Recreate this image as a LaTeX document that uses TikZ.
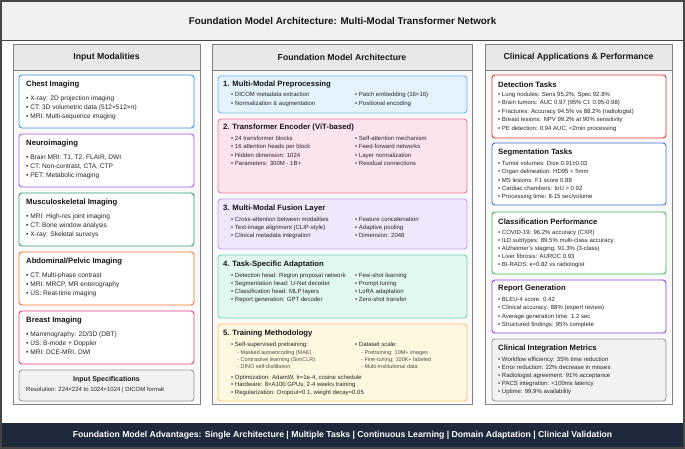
\documentclass[tikz,border=0pt]{standalone}
\usepackage{fontspec}
\setmainfont{Liberation Sans}
\usepackage{xcolor}
\definecolor{framegray}{RGB}{70,70,70}
\definecolor{titlefill}{RGB}{240,240,240}
\definecolor{panelfill}{RGB}{249,249,249}
\definecolor{hdrfill}{RGB}{232,232,232}
\definecolor{footnavy}{RGB}{30,41,59}
\definecolor{chestblue}{RGB}{52,152,219}
\definecolor{neuropurple}{RGB}{160,90,240}
\definecolor{mskgreen}{RGB}{46,160,110}
\definecolor{abdorange}{RGB}{240,120,50}
\definecolor{breastpink}{RGB}{230,60,130}
\definecolor{prefill}{RGB}{227,242,253}
\definecolor{predraw}{RGB}{110,185,240}
\definecolor{encfill}{RGB}{252,228,238}
\definecolor{encdraw}{RGB}{240,120,165}
\definecolor{fusfill}{RGB}{241,231,251}
\definecolor{fusdraw}{RGB}{195,160,235}
\definecolor{adafill}{RGB}{226,247,240}
\definecolor{adadraw}{RGB}{110,215,175}
\definecolor{trnfill}{RGB}{255,247,224}
\definecolor{trndraw}{RGB}{255,195,100}
\definecolor{detred}{RGB}{228,50,50}
\definecolor{segblue}{RGB}{60,110,230}
\definecolor{clsgreen}{RGB}{60,180,90}
\definecolor{reppurple}{RGB}{140,60,240}
\definecolor{cardgray}{RGB}{242,242,244}

\begin{document}
\begin{tikzpicture}[x=1pt,y=-1pt,
    panel/.style={draw=black!50,line width=0.9pt,fill=panelfill},
    hdr/.style={font=\fontsize{8.7}{10}\selectfont\bfseries,text=black!90,inner sep=0},
    card/.style={rounded corners=3pt,line width=0.9pt},
    ttl/.style={anchor=west,inner sep=0,text=black!92,
      font=\fontsize{7.7}{9}\selectfont\bfseries},
    itm/.style={anchor=west,inner sep=0,text=black!85,text height=0.72em,text depth=0.2em,
      font=\fontsize{6}{7}\selectfont},
    itmL/.style={itm,font=\fontsize{6.6}{8}\selectfont},
    subitm/.style={itm,text=black!70,font=\fontsize{5.5}{6.5}\selectfont}]
  \useasboundingbox (0,0) rectangle (685,449);
  \fill[white] (0,0) rectangle (685,449);

  % Title bar and frame
  \fill[titlefill] (1,1) rectangle (684,41);
  \draw[framegray,line width=1pt] (1,41) -- (684,41);
  \node[font=\fontsize{9.8}{11}\selectfont\bfseries,text=black!92] (title) at (342.5,21)
    {Foundation Model Architecture: Multi-Modal Transformer Network};

  % Footer
  \fill[footnavy] (1,422.5) rectangle (684,448);
  \node[font=\fontsize{8.65}{10}\selectfont\bfseries,text=white] (footer) at (342.5,435)
    {Foundation Model Advantages: Single Architecture | Multiple Tasks | Continuous Learning | Domain Adaptation | Clinical Validation};
  \draw[framegray,line width=1.5pt] (1,1) rectangle (684,448);

  % Three panels
  \foreach \xa/\xb/\name/\head in {13/200/inp/Input Modalities,
      212/472/arch/Foundation Model Architecture,
      485/672/clin/Clinical Applications \& Performance} {
    \draw[panel] (\xa,44) rectangle (\xb,404);
    \draw[draw=black!50,line width=0.9pt,fill=hdrfill] (\xa,44) rectangle (\xb,70);
    \node[hdr] (\name-head) at ({(\xa+\xb)/2},57) {\head};
  }

  % Input modalities
  \draw[card,chestblue,fill=white] (19,75) rectangle (194,128);
  \node[ttl] (chest) at (26,85) {Chest Imaging};
  \foreach \t [count=\i] in {X-ray: 2D projection imaging,
      CT: 3D volumetric data (512×512×n),MRI: Multi-sequence imaging}
    \node[itmL] (chest\i) at (26,{98+9*(\i-1)}) {• \t};

  \draw[card,neuropurple,fill=white] (19,134) rectangle (194,187);
  \node[ttl] (neuro) at (26,144) {Neuroimaging};
  \foreach \t [count=\i] in {{Brain MRI: T1, T2, FLAIR, DWI},
      {CT: Non-contrast, CTA, CTP},PET: Metabolic imaging}
    \node[itmL] (neuro\i) at (26,{157+9*(\i-1)}) {• \t};

  \draw[card,mskgreen,fill=white] (19,193) rectangle (194,246);
  \node[ttl] (msk) at (26,203) {Musculoskeletal Imaging};
  \foreach \t [count=\i] in {MRI: High-res joint imaging,
      CT: Bone window analysis,X-ray: Skeletal surveys}
    \node[itmL] (msk\i) at (26,{216+9*(\i-1)}) {• \t};

  \draw[card,abdorange,fill=white] (19,252) rectangle (194,305);
  \node[ttl] (abd) at (26,262) {Abdominal/Pelvic Imaging};
  \foreach \t [count=\i] in {CT: Multi-phase contrast,
      {MRI: MRCP, MR enterography},US: Real-time imaging}
    \node[itmL] (abd\i) at (26,{275+9*(\i-1)}) {• \t};

  \draw[card,breastpink,fill=white] (19,311) rectangle (194,364);
  \node[ttl] (breast) at (26,321) {Breast Imaging};
  \foreach \t [count=\i] in {Mammography: 2D/3D (DBT),
      US: B-mode + Doppler,{MRI: DCE-MRI, DWI}}
    \node[itmL] (breast\i) at (26,{334+9*(\i-1)}) {• \t};

  \draw[card,black!40,fill=cardgray] (19,370) rectangle (194,401);
  \node[font=\fontsize{7}{8}\selectfont\bfseries,text=black!90] (spec) at (106.5,380)
    {Input Specifications};
  \node[itm] (spec1) at (26,389) {Resolution: 224×224 to 1024×1024 | DICOM format};

  % Architecture stages
  \draw[card,predraw,fill=prefill] (218,76) rectangle (467,113);
  \node[ttl] (pre) at (223,85) {1. Multi-Modal Preprocessing};
  \foreach \t [count=\i] in {DICOM metadata extraction,Normalization \& augmentation}
    \node[itm] (preL\i) at (231,{94+8.6*(\i-1)}) {• \t};
  \foreach \t [count=\i] in {Patch embedding (16×16),Positional encoding}
    \node[itm] (preR\i) at (355,{94+8.6*(\i-1)}) {• \t};

  \draw[card,encdraw,fill=encfill] (218,119) rectangle (467,193);
  \node[ttl] (enc) at (223,128) {2. Transformer Encoder (ViT-based)};
  \foreach \t [count=\i] in {24 transformer blocks,16 attention heads per block,
      Hidden dimension: 1024,Parameters: 300M - 1B+}
    \node[itm] (encL\i) at (231,{138+8.3*(\i-1)}) {• \t};
  \foreach \t [count=\i] in {Self-attention mechanism,Feed-forward networks,
      Layer normalization,Residual connections}
    \node[itm] (encR\i) at (355,{138+8.3*(\i-1)}) {• \t};

  \draw[card,fusdraw,fill=fusfill] (218,199) rectangle (467,249);
  \node[ttl] (fus) at (223,209) {3. Multi-Modal Fusion Layer};
  \foreach \t [count=\i] in {Cross-attention between modalities,
      Text-image alignment (CLIP-style),Clinical metadata integration}
    \node[itm] (fusL\i) at (231,{219+8*(\i-1)}) {• \t};
  \foreach \t [count=\i] in {Feature concatenation,Adaptive pooling,Dimension: 2048}
    \node[itm] (fusR\i) at (355,{219+8*(\i-1)}) {• \t};

  \draw[card,adadraw,fill=adafill] (218,255) rectangle (467,318);
  \node[ttl] (ada) at (223,265) {4. Task-Specific Adaptation};
  \foreach \t [count=\i] in {Detection head: Region proposal network,
      Segmentation head: U-Net decoder,Classification head: MLP layers,
      Report generation: GPT decoder}
    \node[itm] (adaL\i) at (231,{275+7.8*(\i-1)}) {• \t};
  \foreach \t [count=\i] in {Few-shot learning,Prompt tuning,LoRA adaptation,
      Zero-shot transfer}
    \node[itm] (adaR\i) at (355,{275+7.8*(\i-1)}) {• \t};

  \draw[card,trndraw,fill=trnfill] (218,324) rectangle (467,401);
  \node[ttl] (trn) at (223,334) {5. Training Methodology};
  \node[itm] (trnL) at (231,344) {• Self-supervised pretraining:};
  \foreach \t [count=\i] in {Masked autoencoding (MAE),
      Contrastive learning (SimCLR),DINO self-distillation}
    \node[subitm] (trnL\i) at (237,{352+7*(\i-1)}) {- \t};
  \node[itm] (trnR) at (355,344) {• Dataset scale:};
  \foreach \t [count=\i] in {Pretraining: 10M+ images,Fine-tuning: 100K+ labeled,
      Multi-institutional data}
    \node[subitm] (trnR\i) at (361,{352+7*(\i-1)}) {- \t};
  \foreach \t [count=\i] in {{Optimization: AdamW, lr=1e-4, cosine schedule},
      {Hardware: 8×A100 GPUs, 2-4 weeks training},
      {Regularization: Dropout=0.1, weight decay=0.05}}
    \node[itm] (trnB\i) at (231,{377+7.2*(\i-1)}) {• \t};

  % Clinical applications
  \draw[card,detred,fill=white] (492,75) rectangle (666,138);
  \node[ttl] (det) at (498,85) {Detection Tasks};
  \foreach \t [count=\i] in {{Lung nodules: Sens 95.2\%, Spec 92.8\%},
      Brain tumors: AUC 0.97 (95\% CI: 0.95-0.98),
      Fractures: Accuracy 94.5\% vs 88.2\% (radiologist),
      Breast lesions: NPV 99.2\% at 90\% sensitivity,
      {PE detection: 0.94 AUC, <2min processing}}
    \node[itm] (det\i) at (498,{94+8.4*(\i-1)}) {• \t};

  \draw[card,segblue,fill=white] (492,143) rectangle (666,205);
  \node[ttl] (seg) at (498,153) {Segmentation Tasks};
  \foreach \t [count=\i] in {Tumor volumes: Dice 0.91±0.03,
      Organ delineation: HD95 < 5mm,MS lesions: F1 score 0.88,
      Cardiac chambers: IoU > 0.92,Processing time: 8-15 sec/volume}
    \node[itm] (seg\i) at (498,{163+8.3*(\i-1)}) {• \t};

  \draw[card,clsgreen,fill=white] (492,212) rectangle (666,274);
  \node[ttl] (cls) at (498,222) {Classification Performance};
  \foreach \t [count=\i] in {COVID-19: 96.2\% accuracy (CXR),
      ILD subtypes: 89.5\% multi-class accuracy,
      Alzheimer's staging: 91.3\% (3-class),
      Liver fibrosis: AUROC 0.93,BI-RADS: κ=0.82 vs radiologist}
    \node[itm] (cls\i) at (498,{232+8*(\i-1)}) {• \t};

  \draw[card,reppurple,fill=white] (492,280) rectangle (666,333);
  \node[ttl] (rep) at (498,289) {Report Generation};
  \foreach \t [count=\i] in {BLEU-4 score: 0.42,
      Clinical accuracy: 88\% (expert review),
      Average generation time: 1.2 sec,Structured findings: 95\% complete}
    \node[itm] (rep\i) at (498,{299+8.3*(\i-1)}) {• \t};

  \draw[card,black!40,fill=cardgray] (492,339) rectangle (666,401);
  \node[ttl] (cim) at (498,349) {Clinical Integration Metrics};
  \foreach \t [count=\i] in {Workflow efficiency: 35\% time reduction,
      Error reduction: 22\% decrease in misses,
      Radiologist agreement: 91\% acceptance,
      PACS integration: <100ms latency,Uptime: 99.9\% availability}
    \node[itm] (cim\i) at (498,{359+8*(\i-1)}) {• \t};
\end{tikzpicture}
\end{document}
